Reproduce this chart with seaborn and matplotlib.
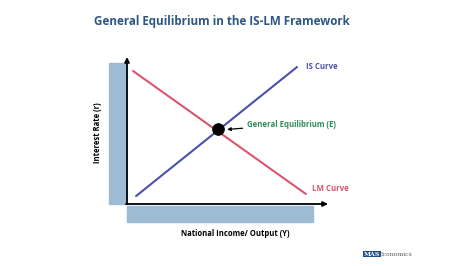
import matplotlib
matplotlib.use("Agg")
import matplotlib.pyplot as plt
import seaborn as sns
import pandas as pd
from matplotlib.patches import Rectangle

# ---- data (conceptual units) ----
is_x = [0.45, 8.46]
is_r = [0.54, 9.32]
lm_x = [0.30, 8.90]
lm_r = [9.05, 0.68]
eq_x = [4.53]
eq_r = [5.07]
left_bar = [-0.90, 0.0, 0.85, 9.59]     # x, y, width, height
bottom_bar = [0.0, -1.22, 9.25, 1.08]

title = "General Equilibrium in the IS-LM Framework"
xlabel = "National Income/ Output (Y)"
ylabel = "Interest Rate (r)"

sns.set_style("white")
plt.rcParams['font.family'] = ['Open Sans', 'DejaVu Sans']

fig = plt.figure(figsize=(4.74, 2.66), dpi=100)
ax = fig.add_axes([127/474, (266-204)/266, (328-127)/474, (204-57)/266])
ax.set_xlim(0, 10)
ax.set_ylim(0, 10)
for s in ax.spines.values():
    s.set_visible(False)
ax.set_xticks([]); ax.set_yticks([])
ax.patch.set_alpha(0)

bar_color = "#9dbbd3"
ax.add_patch(Rectangle((left_bar[0], left_bar[1]), left_bar[2], left_bar[3],
                       color=bar_color, clip_on=False, zorder=0))
ax.add_patch(Rectangle((bottom_bar[0], bottom_bar[1]), bottom_bar[2], bottom_bar[3],
                       color=bar_color, clip_on=False, zorder=0))

# axes arrows
ax.annotate('', xy=(0, 10), xytext=(0, -0.02), annotation_clip=False,
            arrowprops=dict(arrowstyle='-|>', color='black', lw=1.3,
                            mutation_scale=7, shrinkA=0, shrinkB=0))
ax.annotate('', xy=(10, 0), xytext=(-0.05, 0), annotation_clip=False,
            arrowprops=dict(arrowstyle='-|>', color='black', lw=1.3,
                            mutation_scale=7, shrinkA=0, shrinkB=0))

blue = "#4a52a8"
red = "#d9566e"
df_is = pd.DataFrame({"Y": is_x, "r": is_r})
df_lm = pd.DataFrame({"Y": lm_x, "r": lm_r})
sns.lineplot(data=df_is, x="Y", y="r", ax=ax, color=blue, lw=1.5)
sns.lineplot(data=df_lm, x="Y", y="r", ax=ax, color=red, lw=1.5)
sns.scatterplot(x=eq_x, y=eq_r, ax=ax, color="black", s=70, zorder=5, edgecolor="black")
ax.set_xlim(0, 10); ax.set_ylim(0, 10)
ax.set_xlabel(""); ax.set_ylabel("")

fs = 5.6
ax.text(is_x[1] + 0.45, is_r[1], "IS Curve", color="#4a52a8", fontsize=fs,
        fontweight="bold", va="center", ha="left")
ax.text(lm_x[1] + 0.3, lm_r[1] + 0.4, "LM Curve", color="#d9566e", fontsize=fs,
        fontweight="bold", va="center", ha="left")
ax.annotate("General Equilibrium (E)", xy=(eq_x[0] + 0.45, eq_r[0]),
            xytext=(eq_x[0] + 1.45, eq_r[0] + 0.35), color="#2e8b5a",
            fontsize=fs, fontweight="bold", va="center", ha="left",
            arrowprops=dict(arrowstyle='-|>', color='black', lw=0.9,
                            mutation_scale=5, shrinkA=1, shrinkB=0))

fig.text(222/474, 1 - 21/266, title, color="#2e5583", fontsize=8.4,
         fontweight="bold", ha="center", va="center")
fig.text(235/474, 1 - 233/266, xlabel, color="black", fontsize=5.5,
         fontweight="bold", ha="center", va="center")
fig.text(97/474, 1 - 133/266, ylabel, color="black", fontsize=5.5,
         fontweight="bold", ha="center", va="center", rotation=90)

# logo
fig.text(372/474, 1 - 254/266, "MAS", color="white", fontsize=4.5, fontweight="bold",
         ha="center", va="center", family="DejaVu Serif",
         bbox=dict(boxstyle="square,pad=0.15", fc="#1f4f8f", ec="none"))
fig.text(379/474, 1 - 254/266, "Economics", color="#555555", fontsize=4.5,
         ha="left", va="center", family="DejaVu Serif")

fig.savefig("out.png", dpi=100, facecolor="white")
